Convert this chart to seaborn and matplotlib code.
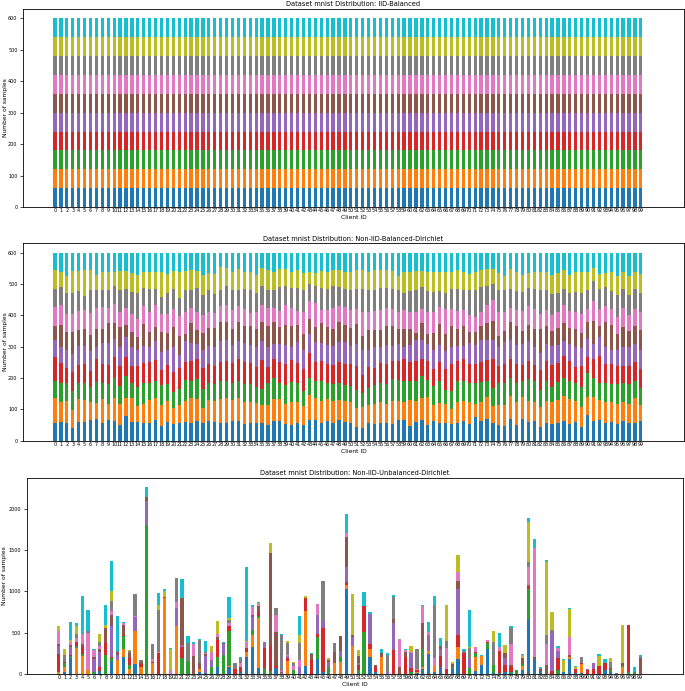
import numpy as np
import pandas as pd
import matplotlib
matplotlib.use("Agg")
import matplotlib.pyplot as plt
import seaborn as sns

clients = list(range(100))
classes = list(range(10))
tick_labels = [str(c) for c in clients]

# IID-Balanced: every client holds the same count per class
iid_class_counts = [60, 60, 60, 60, 60, 60, 60, 60, 60, 60]

# Non-IID-Balanced-Dirichlet: stack tops (after class 0 .. class 8)
bal_top0 = [58, 60, 57, 42, 60, 60, 65, 70, 58, 65, 62, 49, 80, 60, 60, 55, 57, 67, 48, 60,
            52, 57, 60, 58, 62, 55, 62, 60, 55, 57, 62, 63, 53, 58, 58, 57, 50, 62, 62, 52,
            49, 58, 50, 67, 67, 57, 62, 57, 67, 60, 55, 45, 40, 58, 53, 58, 58, 52, 67, 67,
            48, 60, 67, 50, 62, 55, 55, 52, 57, 62, 53, 77, 62, 70, 55, 50, 48, 68, 50, 70,
            60, 62, 45, 55, 52, 57, 63, 52, 60, 45, 82, 63, 67, 58, 60, 53, 62, 57, 58, 62]
bal_top1 = [137, 125, 127, 98, 133, 130, 123, 120, 133, 117, 136, 118, 137, 135, 112, 116, 130, 135, 115, 128,
            105, 115, 127, 135, 132, 105, 130, 127, 133, 135, 130, 135, 123, 125, 120, 115, 115, 133, 132, 117,
            123, 125, 110, 147, 137, 128, 133, 128, 130, 128, 125, 103, 108, 115, 117, 125, 118, 128, 128, 125,
            130, 127, 135, 140, 115, 120, 118, 100, 125, 127, 125, 118, 125, 140, 110, 115, 115, 143, 123, 138,
            127, 125, 107, 127, 125, 130, 143, 133, 127, 108, 140, 140, 130, 125, 125, 118, 125, 117, 135, 113]
bal_top2 = [192, 185, 183, 160, 183, 185, 170, 188, 183, 180, 200, 175, 208, 183, 172, 185, 185, 190, 178, 180,
            157, 165, 195, 190, 197, 165, 183, 182, 190, 192, 185, 190, 182, 180, 170, 165, 183, 200, 185, 178,
            188, 185, 160, 200, 190, 190, 185, 180, 185, 178, 175, 163, 153, 167, 178, 183, 180, 197, 195, 190,
            190, 192, 207, 195, 175, 190, 163, 160, 190, 192, 185, 185, 188, 190, 168, 183, 185, 200, 185, 190,
            197, 190, 163, 190, 172, 188, 200, 190, 185, 172, 215, 200, 185, 183, 180, 180, 183, 180, 190, 168]
bal_top3 = [268, 248, 232, 220, 242, 245, 222, 262, 246, 242, 268, 240, 268, 240, 240, 248, 250, 258, 225, 243,
            220, 232, 250, 255, 260, 232, 245, 240, 250, 255, 247, 262, 250, 248, 235, 257, 235, 262, 250, 245,
            257, 248, 230, 280, 252, 255, 245, 243, 250, 245, 245, 238, 210, 235, 232, 248, 245, 255, 255, 260,
            252, 255, 260, 255, 230, 250, 230, 245, 255, 260, 245, 245, 250, 258, 260, 240, 245, 260, 245, 242,
            255, 243, 225, 255, 243, 248, 270, 255, 235, 240, 268, 262, 270, 245, 245, 240, 240, 240, 250, 230]
bal_top4 = [320, 300, 288, 277, 302, 303, 285, 300, 313, 312, 325, 300, 332, 298, 288, 303, 300, 318, 283, 290,
            300, 275, 318, 312, 308, 288, 303, 300, 318, 322, 305, 318, 312, 305, 300, 318, 298, 308, 310, 305,
            300, 315, 290, 340, 315, 312, 305, 302, 315, 315, 302, 310, 290, 290, 300, 300, 305, 303, 310, 300,
            305, 320, 320, 310, 290, 305, 285, 300, 303, 303, 312, 305, 320, 322, 320, 300, 315, 320, 305, 310,
            318, 300, 280, 310, 303, 305, 318, 310, 300, 295, 325, 310, 330, 300, 290, 290, 300, 300, 310, 288]
bal_top5 = [365, 370, 348, 348, 352, 355, 338, 358, 358, 376, 377, 363, 370, 348, 332, 372, 348, 363, 348, 343,
            362, 333, 340, 375, 352, 345, 360, 360, 378, 380, 355, 380, 365, 365, 356, 380, 365, 378, 362, 368,
            366, 370, 340, 390, 363, 375, 362, 358, 378, 368, 360, 372, 335, 352, 352, 352, 365, 365, 358, 355,
            355, 345, 375, 340, 345, 372, 340, 365, 358, 365, 348, 348, 365, 375, 382, 335, 350, 378, 365, 350,
            370, 355, 358, 365, 350, 360, 375, 360, 358, 345, 378, 383, 365, 378, 370, 340, 362, 350, 365, 352]
bal_top6 = [428, 432, 405, 405, 415, 418, 407, 425, 428, 425, 437, 412, 422, 405, 390, 430, 412, 432, 403, 405,
            420, 397, 412, 425, 410, 400, 410, 408, 430, 432, 418, 430, 420, 408, 412, 432, 425, 425, 415, 432,
            422, 415, 412, 445, 438, 418, 418, 422, 430, 428, 418, 420, 410, 412, 415, 418, 425, 420, 410, 418,
            412, 410, 420, 412, 410, 428, 420, 420, 415, 418, 400, 395, 412, 432, 450, 410, 410, 425, 418, 415,
            430, 420, 405, 418, 400, 410, 432, 415, 412, 405, 420, 447, 420, 430, 420, 395, 425, 400, 420, 410]
bal_top7 = [485, 492, 472, 472, 478, 462, 482, 480, 482, 482, 495, 480, 483, 475, 470, 486, 484, 483, 460, 472,
            485, 457, 482, 480, 486, 465, 480, 468, 482, 495, 480, 482, 485, 480, 470, 493, 480, 480, 490, 493,
            487, 486, 480, 500, 495, 487, 483, 495, 490, 485, 480, 485, 485, 480, 480, 488, 486, 483, 480, 470,
            478, 480, 492, 478, 475, 478, 472, 485, 483, 482, 480, 480, 490, 495, 500, 480, 480, 485, 477, 475,
            486, 485, 480, 480, 468, 472, 485, 470, 475, 470, 480, 510, 485, 490, 478, 465, 485, 465, 485, 470]
bal_top8 = [545, 537, 525, 542, 542, 545, 545, 530, 540, 540, 540, 542, 543, 535, 530, 540, 537, 538, 537, 532,
            543, 540, 543, 545, 542, 530, 535, 532, 553, 550, 540, 548, 538, 540, 530, 550, 545, 537, 547, 548,
            540, 545, 535, 540, 535, 542, 540, 545, 545, 540, 537, 545, 545, 537, 545, 545, 545, 542, 525, 537,
            540, 543, 542, 540, 540, 538, 540, 537, 545, 540, 533, 540, 545, 548, 548, 535, 527, 548, 538, 528,
            535, 537, 538, 540, 528, 535, 545, 530, 537, 537, 537, 550, 533, 535, 537, 525, 540, 527, 537, 533]
bal_total = 600

# Non-IID-Unbalanced-Dirichlet: samples per class for each client
unb_c0 = [0, 20, 197, 0, 0, 0, 0, 36, 0, 157, 0, 206, 0, 117, 0, 0, 0, 0, 0, 0,
          0, 0, 0, 0, 28, 8, 0, 89, 0, 81, 0, 28, 210, 330, 77, 0, 0, 77, 0, 0,
          0, 0, 97, 0, 177, 28, 0, 0, 0, 1024, 0, 0, 0, 210, 28, 0, 0, 0, 0, 0,
          0, 16, 60, 242, 20, 81, 0, 56, 181, 0, 0, 36, 109, 298, 16, 16, 28, 16, 0, 48,
          665, 169, 36, 0, 0, 0, 28, 181, 16, 16, 0, 0, 0, 48, 28, 0, 0, 0, 0, 0]
unb_c1 = [25, 60, 0, 318, 218, 48, 0, 0, 0, 0, 169, 93, 56, 407, 89, 0, 129, 0, 915, 0,
          584, 0, 0, 0, 28, 0, 0, 0, 0, 16, 0, 0, 60, 141, 605, 0, 0, 0, 0, 157,
          0, 0, 665, 0, 0, 0, 0, 137, 149, 52, 343, 0, 0, 89, 0, 210, 0, 0, 0, 0,
          0, 12, 20, 40, 77, 0, 0, 0, 149, 0, 0, 165, 113, 0, 0, 0, 0, 0, 0, 52,
          0, 0, 0, 0, 0, 0, 0, 20, 0, 101, 0, 0, 0, 0, 0, 0, 81, 0, 0, 0]
unb_c2 = [0, 50, 20, 24, 20, 0, 28, 0, 230, 32, 0, 161, 52, 0, 0, 1797, 0, 0, 0, 0,
          0, 189, 157, 0, 0, 0, 81, 121, 230, 427, 0, 0, 0, 60, 24, 77, 36, 0, 0, 0,
          48, 0, 0, 0, 274, 0, 89, 0, 60, 0, 0, 48, 512, 0, 0, 0, 0, 0, 0, 0,
          28, 0, 218, 0, 0, 0, 0, 24, 0, 0, 69, 48, 0, 73, 93, 0, 0, 12, 48, 16,
          359, 0, 0, 0, 0, 48, 0, 0, 0, 0, 0, 0, 0, 0, 20, 0, 28, 28, 28, 0]
unb_c3 = [214, 15, 15, 48, 105, 0, 0, 52, 141, 20, 0, 8, 81, 0, 32, 0, 20, 250, 0, 0,
          0, 141, 0, 0, 0, 0, 0, 202, 0, 60, 56, 60, 48, 0, 48, 234, 306, 20, 0, 40,
          0, 0, 161, 169, 28, 532, 0, 0, 0, 40, 0, 60, 310, 64, 60, 0, 0, 290, 0, 210,
          48, 16, 0, 0, 0, 137, 60, 0, 141, 258, 0, 20, 0, 20, 0, 266, 81, 60, 0, 0,
          24, 0, 20, 0, 40, 149, 0, 0, 44, 12, 48, 56, 97, 81, 0, 0, 16, 560, 0, 0]
unb_c4 = [100, 0, 100, 0, 0, 0, 153, 173, 0, 371, 60, 0, 0, 165, 0, 298, 0, 0, 0, 0,
          210, 20, 0, 0, 0, 210, 89, 0, 129, 0, 0, 0, 0, 161, 0, 73, 0, 0, 8, 20,
          0, 89, 0, 0, 234, 85, 60, 0, 73, 181, 109, 28, 0, 359, 0, 0, 28, 330, 0, 0,
          173, 0, 0, 189, 0, 85, 0, 0, 556, 0, 109, 0, 0, 0, 0, 0, 89, 0, 0, 0,
          0, 0, 0, 0, 451, 81, 0, 0, 0, 0, 8, 81, 0, 0, 0, 0, 0, 0, 0, 0]
unb_c5 = [28, 0, 20, 0, 16, 0, 24, 40, 189, 133, 40, 125, 60, 0, 28, 48, 0, 0, 20, 0,
          0, 572, 0, 218, 81, 20, 0, 40, 12, 0, 0, 0, 0, 20, 69, 0, 1124, 415, 12, 0,
          0, 0, 0, 73, 0, 0, 20, 133, 181, 363, 20, 81, 0, 0, 20, 40, 0, 44, 89, 60,
          0, 0, 322, 0, 0, 40, 0, 36, 97, 0, 0, 0, 0, 0, 0, 0, 60, 20, 0, 81,
          24, 32, 0, 109, 0, 0, 0, 28, 0, 0, 0, 0, 0, 0, 20, 0, 8, 0, 0, 189]
unb_c6 = [150, 0, 40, 40, 121, 451, 80, 40, 0, 48, 0, 20, 0, 16, 0, 0, 28, 20, 0, 48,
          81, 0, 0, 145, 0, 16, 101, 32, 0, 28, 0, 48, 64, 93, 24, 0, 0, 202, 12, 16,
          48, 81, 0, 0, 129, 0, 0, 0, 0, 40, 0, 0, 0, 0, 0, 0, 0, 0, 330, 20,
          20, 12, 206, 40, 101, 0, 250, 0, 105, 0, 0, 52, 0, 20, 0, 48, 0, 254, 0, 0,
          226, 1318, 0, 254, 0, 32, 0, 214, 0, 0, 0, 0, 0, 0, 0, 0, 0, 0, 0, 0]
unb_c7 = [0, 85, 0, 52, 0, 24, 0, 40, 0, 125, 12, 0, 28, 258, 16, 0, 185, 504, 0, 0,
          282, 0, 214, 0, 274, 8, 0, 0, 0, 40, 73, 60, 0, 0, 0, 0, 0, 89, 440, 137,
          32, 210, 0, 0, 0, 480, 0, 105, 0, 0, 0, 0, 0, 0, 0, 0, 206, 270, 0, 0,
          0, 246, 0, 0, 637, 0, 89, 0, 0, 24, 133, 0, 0, 0, 282, 0, 0, 198, 0, 0,
          56, 0, 0, 109, 40, 0, 0, 0, 0, 77, 0, 0, 0, 0, 81, 16, 0, 0, 0, 12]
unb_c8 = [65, 72, 20, 97, 0, 0, 0, 97, 28, 117, 0, 0, 8, 0, 0, 0, 0, 60, 69, 254,
          0, 0, 0, 0, 0, 0, 64, 161, 0, 28, 0, 0, 12, 0, 12, 0, 113, 0, 0, 28,
          12, 93, 24, 0, 0, 0, 20, 0, 0, 0, 496, 73, 0, 0, 0, 0, 0, 0, 0, 0,
          69, 0, 0, 0, 0, 0, 431, 32, 210, 0, 20, 0, 0, 0, 133, 0, 93, 0, 0, 32,
          484, 0, 0, 887, 214, 0, 141, 339, 28, 0, 0, 0, 121, 0, 44, 0, 455, 0, 0, 0]
unb_c9 = [0, 0, 218, 32, 459, 246, 12, 10, 242, 363, 419, 20, 0, 0, 0, 113, 0, 149, 24, 16,
          0, 226, 88, 28, 12, 133, 0, 0, 12, 246, 8, 12, 895, 28, 8, 0, 0, 0, 12, 0,
          0, 230, 0, 8, 0, 0, 0, 0, 0, 234, 0, 0, 165, 28, 0, 48, 16, 20, 0, 8,
          0, 0, 8, 121, 109, 97, 0, 0, 0, 16, 443, 0, 8, 0, 0, 169, 0, 20, 0, 12,
          44, 109, 24, 16, 0, 28, 12, 12, 12, 0, 0, 0, 24, 56, 0, 0, 0, 0, 56, 28]

titles = ["Dataset mnist Distribution: IID-Balanced",
          "Dataset mnist Distribution: Non-IID-Balanced-Dirichlet",
          "Dataset mnist Distribution: Non-IID-Unbalanced-Dirichlet"]


def long_df(per_class):
    rows = []
    for k, vals in zip(classes, per_class):
        for c, v in zip(clients, vals):
            rows.append((c, k, v))
    return pd.DataFrame(rows, columns=["client", "label", "count"])


iid = [[n] * len(clients) for n in iid_class_counts]
tops = np.array([bal_top0, bal_top1, bal_top2, bal_top3, bal_top4,
                 bal_top5, bal_top6, bal_top7, bal_top8,
                 [bal_total] * len(clients)])
bal = np.diff(np.vstack([np.zeros(len(clients)), tops]), axis=0)
unb = [unb_c0, unb_c1, unb_c2, unb_c3, unb_c4, unb_c5, unb_c6, unb_c7, unb_c8, unb_c9]

palette = sns.color_palette("tab10", 10)

fig = plt.figure(figsize=(6.85, 6.91), dpi=100)
boxes = [[0.0336, 0.7004, 0.965, 0.2865],
         [0.0336, 0.3622, 0.965, 0.2857],
         [0.0394, 0.0246, 0.9577, 0.2836]]
# y-label anchor (its right edge once rotated), in axes fraction
ylab_x = [-0.023, -0.023, -0.030]

for box, data, title, lx in zip(boxes, [iid, bal, unb], titles, ylab_x):
    ax = fig.add_axes(box)
    df = long_df(data)
    sns.histplot(data=df, x="client", weights="count", hue="label",
                 hue_order=classes[::-1], palette=palette[::-1],
                 multiple="stack", discrete=True, shrink=0.55,
                 alpha=1, linewidth=0, legend=False, ax=ax)
    ax.set_xlim(-5.4, 106.3)
    ax.set_xticks(clients)
    ax.set_xticklabels(tick_labels)
    ax.tick_params(axis="x", labelsize=3.5, length=0, pad=0.8)
    ax.tick_params(axis="y", labelsize=3.5, length=2.2, width=0.5, pad=1.8)
    ax.set_title(title, fontsize=4.8, pad=2)
    ax.set_xlabel("Client ID", fontsize=4.3, labelpad=1.5)
    ax.set_ylabel("Number of samples", fontsize=4.3)
    ax.yaxis.set_label_coords(lx, 0.5)
    for s in ax.spines.values():
        s.set_linewidth(0.6)

fig.savefig("out.png", dpi=100)
